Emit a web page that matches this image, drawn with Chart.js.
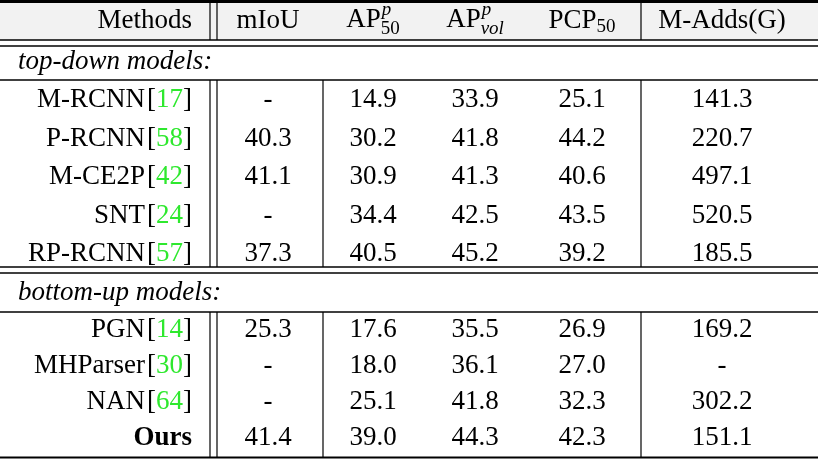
<!DOCTYPE html>
<html><head><meta charset="utf-8">
<script src="https://cdn.jsdelivr.net/npm/chart.js@4/dist/chart.umd.min.js"></script>
<style>html,body{margin:0;padding:0;background:#fff}#w{width:818px;height:460px}</style>
</head><body><div id="w"><canvas id="c"></canvas></div>
<script>
const methods = ["M-RCNN","P-RCNN","M-CE2P","SNT","RP-RCNN","PGN","MHParser","NAN","Ours"];
const refs = ["17","58","42","24","57","14","30","64",""];
const miou = ["-","40.3","41.1","-","37.3","25.3","-","-","41.4"];
const ap50 = ["14.9","30.2","30.9","34.4","40.5","17.6","18.0","25.1","39.0"];
const apvol = ["33.9","41.8","41.3","42.5","45.2","35.5","36.1","41.8","44.3"];
const pcp50 = ["25.1","44.2","40.6","43.5","39.2","26.9","27.0","32.3","42.3"];
const madds = ["141.3","220.7","497.1","520.5","185.5","169.2","-","302.2","151.1"];
const groups = ["top-down models:","bottom-up models:"];

const F = '"Liberation Serif"';
const rowY = [100,138.5,177,215.5,254,330,366,402,438];
const colX = [268,373,475,582,722];

const tablePlugin = {
  id:'table',
  afterDraw(chart){
    const c = chart.ctx, xs = chart.scales.x, ys = chart.scales.y;
    const X = v=>xs.getPixelForValue(v), Y = v=>ys.getPixelForValue(v);
    c.save();
    c.fillStyle='#f2f2f2'; c.fillRect(X(0),Y(3),X(818)-X(0),Y(40)-Y(3));
    const hl=(y,w)=>{c.lineWidth=w;c.strokeStyle='#000';c.beginPath();c.moveTo(X(0),Y(y));c.lineTo(X(818),Y(y));c.stroke();};
    const vl=(x,y0,y1)=>{c.lineWidth=1.2;c.strokeStyle='#000';c.beginPath();c.moveTo(X(x),Y(y0));c.lineTo(X(x),Y(y1));c.stroke();};
    hl(1.5,3); hl(40,1.3); hl(46,1.3); hl(80,1.3); hl(267,1.3); hl(273,1.3); hl(312,1.3); hl(457.5,2);
    [[3,40],[80,267],[312,457]].forEach(([a,b])=>{vl(210,a,b);vl(217,a,b);vl(641,a,b);});
    [[80,267],[312,457]].forEach(([a,b])=>vl(323,a,b));
    c.fillStyle='#000'; c.textBaseline='middle';
    const fs=27;
    c.font=fs+'px '+F; c.textAlign='right'; c.fillText('Methods',X(192),Y(21));
    c.textAlign='center'; c.fillText('mIoU',X(colX[0]),Y(21));
    const sub=(base,sup,sb,x,y)=>{
      c.font=fs+'px '+F; const wb=c.measureText(base).width;
      c.font='italic 19px '+F; const ws=sup?c.measureText(sup).width:0;
      c.font=(sb==='50'?'':'italic ')+'19px '+F; const wsb=c.measureText(sb).width;
      const w=wb+Math.max(ws,wsb); let x0=X(x)-w/2;
      c.textAlign='left'; c.font=fs+'px '+F; c.fillText(base,x0,Y(y));
      if(sup){c.font='italic 19px '+F; c.fillText(sup,x0+wb+1,Y(y-10));}
      c.font=(sb==='50'?'':'italic ')+'19px '+F; c.fillText(sb,x0+wb,Y(y+(sup?9:6)));
    };
    sub('AP','p','50',colX[1],20); sub('AP','p','vol',colX[2],20); sub('PCP','','50',colX[3],21);
    c.textAlign='center'; c.font=fs+'px '+F; c.fillText('M-Adds(G)',X(colX[4]),Y(21));
    c.textAlign='left'; c.font='italic '+fs+'px '+F;
    c.fillText(groups[0],X(18),Y(62)); c.fillText(groups[1],X(18),Y(293));
    for(let i=0;i<methods.length;i++){
      const y=Y(rowY[i]);
      if(refs[i]){
        c.font=fs+'px '+F; const rb='['+refs[i]+']';
        const wR=c.measureText(rb).width, wr=c.measureText(']').width, wn=c.measureText(refs[i]).width;
        let xr=X(192); c.textAlign='right'; c.fillText(']',xr,y);
        c.fillStyle='#2ee82e'; c.fillText(refs[i],xr-wr,y);
        c.fillStyle='#000'; c.fillText('[',xr-wr-wn,y);
        c.fillText(methods[i],xr-wR-2,y);
      } else { c.font='bold '+fs+'px '+F; c.textAlign='right'; c.fillText(methods[i],X(192),y); }
      c.font=fs+'px '+F; c.textAlign='center';
      [miou,ap50,apvol,pcp50,madds].forEach((arr,j)=>c.fillText(arr[i],X(colX[j]),y));
    }
    c.restore();
  }
};
function build(){
  new Chart(document.getElementById('c'),{
    type:'scatter',
    data:{datasets:[{data:rowY.map((y,i)=>({x:colX[0],y})),pointRadius:0}]},
    options:{responsive:true,maintainAspectRatio:false,animation:false,
      layout:{padding:0},
      plugins:{legend:{display:false},tooltip:{enabled:false}},
      scales:{x:{type:'linear',min:0,max:818,display:false},y:{type:'linear',min:0,max:460,reverse:true,display:false}}},
    plugins:[tablePlugin]
  });
}
Promise.all([
  document.fonts.load('27px "Liberation Serif"'),
  document.fonts.load('italic 27px "Liberation Serif"'),
  document.fonts.load('bold 27px "Liberation Serif"')
]).then(build,build);
</script></body></html>
